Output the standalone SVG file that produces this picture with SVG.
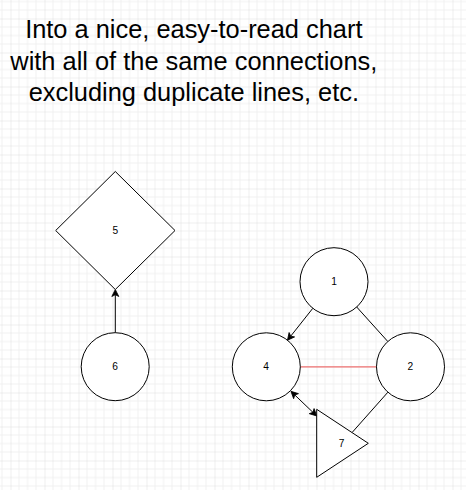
<svg xmlns="http://www.w3.org/2000/svg" width="466" height="490" viewBox="0 0 466 490">
  <style>
    .node { fill: #ffffff; stroke: #000000; stroke-width: 1; }
    .lbl { font-family: "Liberation Sans", Arial, sans-serif; font-size: 10.2px; fill: #000000; text-anchor: middle; }
    .title { font-family: "Liberation Sans", Arial, sans-serif; font-size: 25.4px; fill: #000000; text-anchor: middle; }
    .edge { fill: none; stroke: #000000; stroke-width: 1; }
    .red { fill: none; stroke: #ee7070; stroke-width: 1.3; }
  </style>
  <defs>
    <pattern id="grid" patternUnits="userSpaceOnUse" x="10.5" y="18.5" width="34" height="34">
      <path d="M8.5,0 V34 M17,0 V34 M25.5,0 V34 M0,8.5 H34 M0,17 H34 M0,25.5 H34" fill="none" stroke="#f0f0f0" stroke-width="1"/>
      <path d="M0,0 V34 M0,0 H34" fill="none" stroke="#dedede" stroke-width="1"/>
    </pattern>
    <marker id="arrow" markerUnits="userSpaceOnUse" viewBox="-8 -5 9 10" markerWidth="9" markerHeight="10" refX="-5" refY="0" orient="auto-start-reverse">
      <path d="M0,0 L-7,-3.5 L-5.2,0 L-7,3.5 Z" fill="#000000" stroke="#000000" stroke-width="0.8" stroke-linejoin="miter"/>
    </marker>
  </defs>
  <rect x="0" y="0" width="466" height="490" fill="#ffffff"/>
  <rect x="0" y="0" width="466" height="490" fill="url(#grid)"/>

  <g id="title">
    <text class="title" x="193.8" y="38.4">Into a nice, easy-to-read chart</text>
    <text class="title" x="193.8" y="69.6">with all of the same connections,</text>
    <text class="title" x="193.8" y="100.7">excluding duplicate lines, etc.</text>
  </g>

  <g id="connectors">
    <line class="edge" x1="115.3" y1="332.7" x2="115.3" y2="294.5" marker-end="url(#arrow)"/>
    <line class="edge" x1="312.8" y1="308.3" x2="290.6" y2="336.3" marker-end="url(#arrow)"/>
    <line class="edge" x1="356.7" y1="307" x2="387.8" y2="341.5"/>
    <line class="red" x1="300.3" y1="366.8" x2="376.5" y2="366.8"/>
    <line class="edge" x1="387.9" y1="392.2" x2="352.1" y2="432.5"/>
    <line class="edge" x1="294.6" y1="394.8" x2="313.1" y2="412.5" marker-start="url(#arrow)" marker-end="url(#arrow)"/>
  </g>

  <g id="node5">
    <polygon class="node" points="115.3,171.5 175,230.5 115.3,289.5 55.7,230.5"/>
    <text class="lbl" x="115.3" y="234.1">5</text>
  </g>
  <g id="node6">
    <circle class="node" cx="115.2" cy="366.7" r="34"/>
    <text class="lbl" x="115.2" y="370.3">6</text>
  </g>
  <g id="node1">
    <circle class="node" cx="334" cy="281.7" r="34"/>
    <text class="lbl" x="334" y="285.3">1</text>
  </g>
  <g id="node4">
    <circle class="node" cx="266.3" cy="366.8" r="34"/>
    <text class="lbl" x="266" y="370.4">4</text>
  </g>
  <g id="node2">
    <circle class="node" cx="410.5" cy="366.8" r="34"/>
    <text class="lbl" x="410.3" y="370.4">2</text>
  </g>
  <g id="node7">
    <polygon class="node" points="316.7,409.3 368.3,443.3 316.7,477.3"/>
    <text class="lbl" x="341.7" y="446.9">7</text>
  </g>
</svg>
